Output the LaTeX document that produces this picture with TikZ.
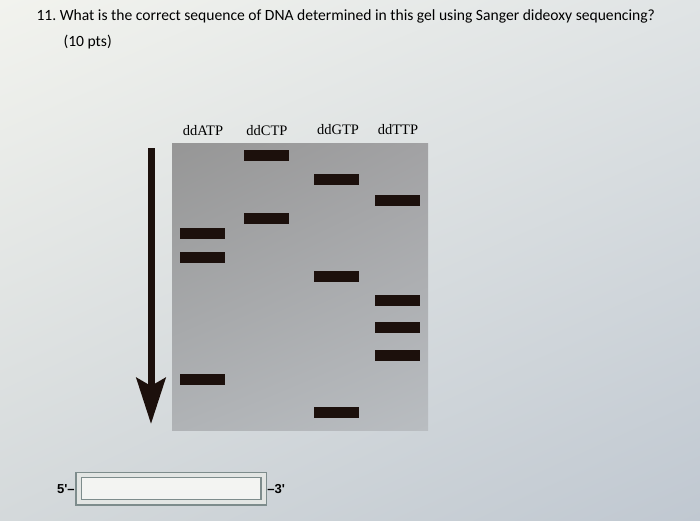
\documentclass[tikz,border=0pt]{standalone}
\usepackage{fontspec}
\setmainfont{Carlito}
\newfontfamily\lanefont{Liberation Serif}
\newfontfamily\endsfont{Liberation Sans}
\usetikzlibrary{arrows.meta,positioning,shadings}
\definecolor{bandcol}{HTML}{1C100C}
\definecolor{boxcol}{HTML}{7D8C8C}
\definecolor{boxring}{HTML}{E2E5E3}
\definecolor{boxin}{HTML}{F3F4F2}
\definecolor{bgul}{RGB}{242,243,238}
\definecolor{bgur}{RGB}{224,228,229}
\definecolor{bgll}{RGB}{212,217,219}
\definecolor{bglr}{RGB}{192,200,209}
\definecolor{gelul}{RGB}{150,150,150}
\definecolor{gelur}{RGB}{162,162,164}
\definecolor{gelll}{RGB}{176,179,182}
\definecolor{gellr}{RGB}{185,189,193}
\begin{document}
\begin{tikzpicture}[x=1pt,y=-1pt,>=latex]
            % background and gel
            \shade[upper left=bgul,upper right=bgur,lower left=bgll,lower right=bglr] (0,0) rectangle (700,520);
            \useasboundingbox (0,0) rectangle (700,520);
            \shade[upper left=gelul,upper right=gelur,lower left=gelll,lower right=gellr] (172,143) rectangle (428,430);

            \node[anchor=west,font=\fontsize{15.6}{18}\selectfont] (q) at (33,16)
                {11.\ What is the correct sequence of DNA determined in this gel using Sanger dideoxy sequencing?};
            \node[anchor=west,font=\fontsize{15.6}{18}\selectfont] (pts) at (60,42) {(10 pts)};

            \begin{scope}[every node/.style={font=\lanefont\fontsize{14.5}{16}\selectfont,inner sep=1pt}]
                \node (la) at (203,131) {ddATP};
                \node (lc) at (267,131) {ddCTP};
                \node (lg) at (338,130) {ddGTP};
                \node (lt) at (398,130) {ddTTP};
            \end{scope}

            \begin{scope}[every node/.style={fill=bandcol,minimum width=45pt,minimum height=11pt,inner sep=0}]
                \node (a1) at (202,233) {};
                \node (a2) at (202,257) {};
                \node (a3) at (202,379) {};
                \node (c1) at (266,155) {};
                \node (c2) at (266,218) {};
                \node (g1) at (336,179) {};
                \node (g2) at (336,276) {};
                \node (g3) at (336,412) {};
                \node (t1) at (397,200) {};
                \node (t2) at (397,300) {};
                \node (t3) at (397,327) {};
                \node (t4) at (397,355) {};
            \end{scope}

            \coordinate (start) at (151,148);
            \coordinate (end) at (151,424);
            \draw[line width=7pt,bandcol,-{Stealth[length=46pt,width=29pt,inset=8pt]}] (start) -- (end);

            \node[draw=boxcol,line width=1.3pt,double=boxring,double distance=4pt,fill=boxin,
                  minimum width=185pt,minimum height=27.5pt,inner sep=0] (answer) at (171,488.7) {};
            \node[left=3pt of answer,inner sep=0,font=\endsfont\bfseries\fontsize{13}{15}\selectfont] (five) {5'–};
            \node[right=3pt of answer,inner sep=0,font=\endsfont\bfseries\fontsize{13}{15}\selectfont] (three) {–3'};
        \end{tikzpicture}
\end{document}
